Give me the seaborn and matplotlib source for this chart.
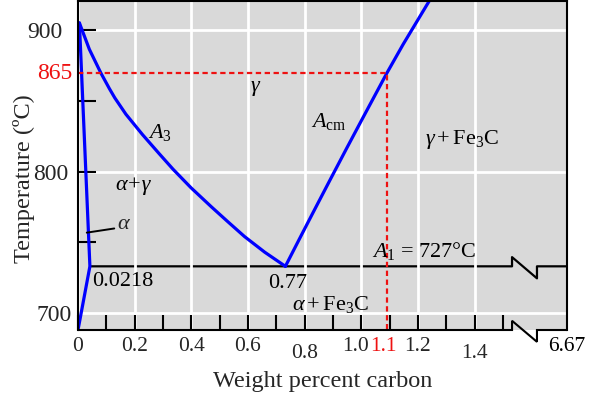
import matplotlib
matplotlib.use("Agg")
import matplotlib.pyplot as plt
import matplotlib.transforms as mtransforms
import pandas as pd
import seaborn as sns

# ---------------- data ----------------
a3_x = [0.005, 0.04, 0.081, 0.111, 0.13, 0.169, 0.228, 0.287, 0.336, 0.399,
        0.471, 0.529, 0.588, 0.659, 0.732]
a3_T = [905, 886.4, 869.5, 858.5, 852, 840.5, 826, 812.5, 801.5, 788.5,
        775, 764.5, 754, 743, 733]
acm_x = [0.732, 0.784, 0.831, 0.889, 0.948, 1.007, 1.09, 1.148, 1.24]
acm_T = [733, 753.3, 771.5, 793.8, 816.3, 838.5, 869.5, 890, 920.6]
alpha_x = [0.005, 0.042, 0.0]
alpha_T = [905, 733, 688]
eutectoid_T = 733
alpha_corner_x = 0.042
alloy_x = 1.09
alloy_T = 869.5
alloy_x_label = "1.1"
alloy_T_label = "865"
x_ticks = [0, 0.2, 0.4, 0.6, 0.8, 1.0, 1.2, 1.4]
x_ticklabels = ["0", "0.2", "0.4", "0.6", "0.8", "1.0", "1.2", "1.4"]
x_minor = [0.1, 0.3, 0.5, 0.7, 0.9, 1.1, 1.3, 1.5]
y_ticks = [700, 800, 900]
y_ticklabels = ["700", "800", "900"]
y_minor = [750, 850]
x_break = (1.532, 1.62)
x_end = 1.726
x_end_label = "6.67"
y_lim = (688, 920.5)

BLUE = "#0000ff"
RED = "#ee1111"
FS = 16
XFS = 15.5
YFS = 17

sns.set_theme(style="darkgrid", rc={
    "axes.facecolor": "#d9d9d9",
    "grid.color": "white",
    "grid.linewidth": 2.0,
    "axes.edgecolor": "black",
    "axes.linewidth": 1.5,
})
plt.rcParams["font.family"] = ["Liberation Serif", "DejaVu Serif"]
plt.rcParams["mathtext.fontset"] = "custom"
plt.rcParams["mathtext.rm"] = "Liberation Serif"
plt.rcParams["mathtext.it"] = "Liberation Serif:italic"
plt.rcParams["mathtext.bf"] = "Liberation Serif:bold"

fig = plt.figure(figsize=(5.9, 3.93), dpi=100)
ax = fig.add_axes([78 / 590, 63 / 393, 489 / 590, 329 / 393])
ax.set_axisbelow(False)

# phase boundaries
for xs, ts in ((a3_x, a3_T), (acm_x, acm_T), (alpha_x, alpha_T)):
    sns.lineplot(data=pd.DataFrame({"x": xs, "T": ts}), x="x", y="T", ax=ax,
                 color=BLUE, lw=2.3, sort=False, estimator=None, zorder=4)

# eutectoid line with axis-break zigzag
zu, zd = 6.5, 8.5
eu_x = [alpha_corner_x, x_break[0], x_break[0], x_break[1], x_break[1], x_end]
eu_T = [eutectoid_T, eutectoid_T, eutectoid_T + zu, eutectoid_T - zd, eutectoid_T, eutectoid_T]
sns.lineplot(data=pd.DataFrame({"x": eu_x, "T": eu_T}), x="x", y="T", ax=ax,
             color="black", lw=1.6, sort=False, estimator=None, zorder=2)

# red dashed guide lines for the alloy
ax.plot([0, alloy_x, alloy_x], [alloy_T, alloy_T, y_lim[0]], color=RED, lw=1.6,
        linestyle=(0, (2.4, 1.6)), zorder=5, clip_on=False)

ax.set_xlim(0, x_end)
ax.set_ylim(*y_lim)
ax.set_xlabel("")
ax.set_ylabel("")

# ticks
ax.set_xticks(x_ticks)
ax.set_xticklabels(x_ticklabels)
ax.set_xticks(x_minor, minor=True)
ax.set_yticks(y_ticks)
ax.set_yticklabels(y_ticklabels)
ax.set_yticks(y_minor, minor=True)
ax.tick_params(axis="x", which="both", direction="in", length=11, width=1.5,
               bottom=True, color="black", pad=5, labelsize=XFS)
ax.tick_params(axis="y", which="both", direction="in", length=13, width=1.5,
               left=True, color="black", pad=5, labelsize=YFS)
ax.grid(True, which="major")
ax.grid(False, which="minor")
for t, lab in zip(ax.xaxis.get_major_ticks(), x_ticklabels):
    if lab in ("0.8", "1.4"):
        t.set_pad(10)
    if lab == "1.0":
        t.label1.set_transform(t.label1.get_transform() +
                               mtransforms.ScaledTranslation(-6 / 100, 0, fig.dpi_scale_trans))
yt = ax.yaxis.get_major_ticks()
yt[0].tick1line.set_visible(False)
yt[0].set_pad(4.3)
yt[1].set_pad(7.2)
yt[2].set_pad(10.8)

# extra axis labels
ax.annotate(alloy_T_label, xy=(0, alloy_T), xycoords=("axes fraction", "data"),
            xytext=(-4.3, 0), textcoords="offset points", ha="right", va="center",
            color=RED, fontsize=YFS)
ax.annotate(alloy_x_label, xy=(alloy_x, 0), xycoords=("data", "axes fraction"),
            xytext=(-2.6, -5), textcoords="offset points", ha="center", va="top",
            color=RED, fontsize=XFS)
ax.annotate(x_end_label, xy=(x_end, 0), xycoords=("data", "axes fraction"),
            xytext=(0, -5), textcoords="offset points", ha="center", va="top",
            color="black", fontsize=XFS)

# bottom spine with break
ax.spines["bottom"].set_visible(False)
bx = [0, x_break[0], x_break[0], x_break[1], x_break[1], x_end]
by = [0, 0, 0.028, -0.036, 0, 0]
ax.plot(bx, by, color="black", lw=1.5, transform=ax.get_xaxis_transform(),
        clip_on=False, zorder=6, solid_joinstyle="miter")
for s in ("left", "right", "top"):
    ax.spines[s].set_zorder(6)

# region / curve labels
txt = dict(fontsize=FS, color="black", va="baseline", zorder=7)
ax.text(0.624, 857, "γ", ha="center", style="italic", **txt)
ax.text(0.288, 824, r"$A_\mathrm{3}$", ha="center", **txt)
ax.text(0.886, 831.5, r"$A_\mathrm{cm}$", ha="center", **txt)
ax.text(0.194, 786.6, "α+γ", ha="center", style="italic", **txt)
ax.text(1.357, 819.5, r"$\gamma+\mathrm{Fe_3C}$", ha="center", **txt)
ax.text(0.89, 702, r"$\alpha+\mathrm{Fe_3C}$", ha="center", **txt)
ax.text(1.037, 739.6, r"$A_\mathrm{1}$ = 727°C", ha="left", **txt)
ax.text(0.159, 719, "0.0218", ha="center", **txt)
ax.text(0.74, 718, "0.77", ha="center", **txt)
ax.annotate("α", xy=(0.031, 756.8), xytext=(0.16, 759.6), ha="center",
            va="baseline", style="italic", fontsize=FS, zorder=7,
            arrowprops=dict(arrowstyle="-", color="black", lw=1.4,
                            shrinkA=0, shrinkB=0, relpos=(0.0, 0.3)))

ax.set_xlabel("Weight percent carbon", fontsize=17.5, labelpad=6)
ax.set_ylabel("Temperature (ºC)", fontsize=17.5)
ax.yaxis.set_label_coords(-0.088, 0.459)

fig.savefig("out.png", dpi=100)
